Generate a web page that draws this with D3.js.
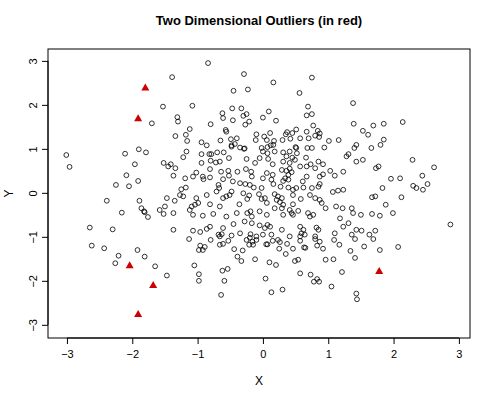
<!DOCTYPE html>
<html lang="en">
<head>
<meta charset="UTF-8">
<title>Two Dimensional Outliers</title>
<script src="https://cdn.jsdelivr.net/npm/d3@7"></script>
<style>
	*{margin:0;box-sizing:border-box;}
	body{background:#fff;}
	text{font-family:"Liberation Sans",Arial,sans-serif;fill:#000;}
	.axis line,.axis path{stroke:#000;}
</style>
</head>
<body>
<svg id="svg" width="500" height="399"></svg>
<script>
// ordinary points as [x, y]
var points = [
	[-1.53,1.96],[-1.70,1.58],[-1.90,0.99],
	[-0.84,2.95],[-1.39,2.63],[-0.29,2.70],[-0.45,2.32],[-0.23,2.35],[-1.08,1.98],[-0.47,1.92],[-0.33,1.92],[-1.31,1.72],[-1.30,1.62],[-0.62,1.81],[-0.61,1.70],[-0.46,1.65],[-0.30,1.75],[-0.25,1.79],[-0.21,1.62],[-0.27,1.55],[-0.80,1.56],[-1.12,1.45],[-0.57,1.43],[-0.56,1.39],[0.00,1.71],[-1.34,1.29],[-1.18,1.32],[-1.16,1.18],[-0.94,1.15],[-0.86,1.08],[-0.65,1.19],[-0.49,1.22],[-0.40,1.24],[-0.48,1.08],[-0.43,1.11],[-0.29,1.00],[-0.28,1.01],[-0.10,1.33],[-0.11,1.20],[0.02,1.28],[-0.02,1.02],
	[0.75,2.62],[0.16,2.51],[0.56,2.27],[1.38,2.04],[0.69,1.96],[0.09,1.85],[0.20,1.64],[0.67,1.76],[0.75,1.79],[1.39,1.57],[1.53,1.41],[0.77,1.53],[0.11,1.36],[0.06,1.20],[0.35,1.33],[0.37,1.38],[0.45,1.36],[0.51,1.44],[0.67,1.39],[0.84,1.41],[0.87,1.35],[0.80,1.30],[0.86,1.27],[0.57,1.24],[0.70,1.24],[0.30,1.20],[0.42,1.23],[0.17,1.18],[0.16,1.09],[0.12,1.08],[0.07,1.04],[1.01,1.18],[1.16,1.20],[0.50,1.04],[0.51,1.02],[0.68,1.02],[0.75,1.02],[0.94,1.03],[1.43,1.09],[1.40,1.02],
	[2.14,1.61],[1.85,1.57],[1.69,1.53],[1.61,1.32],[1.85,1.21],[1.80,1.09],[1.66,1.02],
	[-3.01,0.86],[-2.96,0.59],[-2.11,0.89],[-1.79,0.92],[-1.96,0.65],[-1.52,0.68],[-2.09,0.40],[-1.91,0.27],[-2.25,0.18],[-2.05,0.15],[-2.39,-0.18],[-1.89,-0.18],[-1.86,-0.35],[-1.82,-0.42],[-1.81,-0.44],[-1.76,-0.55],[-1.58,-0.39],[-1.52,-0.48],[-1.50,-0.31],[-2.16,-0.45],[-2.65,-0.79],[-2.30,-0.83],
	[-1.17,0.94],[-1.22,0.81],[-0.94,0.88],[-0.82,0.88],[-0.79,0.88],[-0.70,0.92],[-0.60,0.92],[-0.48,1.05],[-0.35,1.03],[-0.05,0.79],[-0.52,0.79],[-0.66,0.71],[-0.72,0.69],[-0.80,0.73],[-0.94,0.68],[-1.41,0.65],[-1.34,0.56],[-1.45,0.60],[-1.37,0.39],[-0.81,0.54],[-0.25,0.77],[-0.12,0.68],[-0.26,0.54],[-0.18,0.48],[-0.17,0.37],[-0.39,0.48],[-0.53,0.50],[-0.64,0.48],[-1.02,0.46],[-1.07,0.37],[-1.19,0.33],[-0.92,0.37],[-0.91,0.31],[-0.81,0.35],[-0.61,0.31],[-0.52,0.39],[-0.46,0.26],[-0.35,0.22],[-0.27,0.20],[-0.20,0.18],[-0.14,0.12],[0.00,0.33],[-0.02,0.11],[-0.68,0.18],[-0.67,0.11],[-0.71,0.03],[-1.18,0.12],[-1.25,0.08],[-1.27,-0.05],[-1.22,-0.08],[-0.86,-0.05],[-1.02,-0.12],[-0.99,-0.23],[-1.04,-0.27],[-1.09,-0.31],[-1.12,-0.39],[-0.81,-0.26],[-0.66,-0.31],[-0.61,-0.12],[-0.56,-0.08],[-0.51,-0.05],[-0.48,0.03],[-0.30,-0.01],[-0.21,-0.06],[-0.24,-0.14],[-0.36,-0.26],[-0.06,-0.03],[-0.02,-0.14],[-1.47,-0.12],[-1.35,-0.18],[-1.37,-0.46],[-1.07,-0.50],[-0.92,-0.52],[-0.76,-0.48],[-0.56,-0.54],[-0.40,-0.46],[-0.24,-0.46],[-0.19,-0.42],[-0.17,-0.54],[-0.05,-0.42],[-0.28,-0.65],[-0.45,-0.71],[-0.17,-0.69],[-0.05,-0.74],[-0.81,-0.77],[-0.86,-0.82],[-1.07,-0.86],[-0.96,-0.89],[-1.37,-0.84],[-0.61,-0.80],[-0.68,-0.95],[-0.66,-0.99],[-0.63,-0.94],[-0.48,-0.97],[-0.35,-0.92],[-0.19,-0.94],[-0.10,-0.99],[0.00,-0.95],
	[0.00,0.94],[0.07,0.90],[0.18,0.94],[0.08,0.77],[0.15,0.65],[0.31,0.92],[0.41,0.94],[0.36,0.83],[0.45,0.80],[0.52,0.90],[0.66,0.80],[0.31,0.71],[0.41,0.68],[0.49,0.75],[0.57,0.60],[0.67,0.60],[0.73,0.65],[0.80,0.56],[0.85,0.71],[0.92,0.65],[1.03,0.50],[0.92,0.42],[0.87,0.37],[1.10,0.39],[1.23,0.48],[1.28,0.83],[1.31,0.88],[1.43,0.71],[1.53,0.75],[0.29,0.52],[0.36,0.50],[0.41,0.55],[0.44,0.47],[0.39,0.41],[0.34,0.33],[0.39,0.30],[0.31,0.27],[0.06,0.45],[0.15,0.41],[0.13,0.30],[0.16,0.20],[0.27,0.14],[0.39,0.12],[0.46,0.07],[0.51,0.11],[0.61,0.26],[0.67,0.37],[0.62,0.12],[0.75,0.11],[0.85,0.14],[0.87,0.20],[1.07,0.02],[1.15,0.05],[1.23,0.07],[0.03,-0.12],[0.06,-0.23],[0.18,-0.03],[0.23,-0.08],[0.21,-0.16],[0.29,-0.12],[0.26,-0.21],[0.31,-0.27],[0.18,-0.35],[0.29,-0.35],[0.46,-0.05],[0.58,-0.14],[0.72,-0.05],[0.80,-0.12],[0.87,-0.16],[0.90,-0.23],[0.96,-0.35],[0.46,-0.26],[0.41,-0.39],[0.44,-0.46],[0.46,-0.50],[0.54,-0.41],[0.31,-0.50],[0.69,-0.46],[0.72,-0.54],[0.77,-0.50],[1.12,-0.31],[1.22,-0.35],[1.36,-0.35],[1.38,-0.46],[1.50,-0.50],[1.18,-0.58],[1.23,-0.77],[1.31,-0.69],[0.06,-0.50],[0.07,-0.73],[0.11,-0.77],[0.03,-0.80],[0.13,-0.95],[0.29,-0.84],[0.41,-0.99],[0.57,-0.77],[0.62,-0.84],[0.59,-0.92],[0.64,-0.95],[0.57,-0.99],[0.82,-0.79],[0.85,-0.84],[0.80,-0.99],[1.10,-0.92],[1.36,-0.95],[1.43,-0.84],[1.51,-0.86],
	[1.73,0.56],[1.77,0.60],[2.29,0.75],[2.62,0.58],[1.96,0.32],[2.10,0.33],[2.44,0.39],[2.52,0.20],[2.30,0.16],[2.35,0.11],[2.45,0.07],[1.83,0.11],[1.67,-0.10],[1.72,-0.08],[2.12,-0.10],[1.88,-0.27],[1.99,-0.46],[1.67,-0.48],[1.79,-0.52],[2.87,-0.72],[1.72,-0.86],[1.63,-0.95],[1.69,-1.05],
	[-2.62,-1.20],[-2.43,-1.26],[-2.21,-1.43],[-2.26,-1.60],[-1.92,-1.30],[-1.81,-1.45],[-1.65,-1.67],
	[-1.13,-1.05],[-0.80,-1.07],[-0.53,-1.09],[-0.66,-1.18],[-0.61,-1.16],[-0.96,-1.20],[-0.89,-1.23],[-0.98,-1.30],[-0.92,-1.30],[-0.44,-1.28],[-0.31,-1.31],[-0.39,-1.45],[-0.33,-1.55],[-0.25,-1.07],[-0.20,-1.02],[-0.16,-1.11],[-0.10,-1.07],[-0.21,-1.18],[-0.15,-1.18],[-0.12,-1.51],[-1.05,-1.65],[-1.47,-1.88],[-0.98,-1.85],[-0.98,-2.00],[-0.62,-1.77],[-0.54,-1.73],[-0.59,-2.00],[-0.64,-2.32],[0.04,-1.95],
	[0.07,-1.17],[0.05,-1.17],[0.15,-1.09],[0.23,-1.07],[0.26,-1.12],[0.57,-1.09],[0.37,-1.16],[0.25,-1.27],[0.46,-1.27],[0.35,-1.39],[0.63,-1.24],[0.65,-1.25],[0.80,-1.05],[0.87,-1.11],[0.83,-1.20],[0.92,-1.27],[1.09,-1.07],[1.17,-1.18],[1.41,-1.05],[1.34,-1.32],[1.41,-1.48],[1.55,-1.22],[0.10,-1.58],[0.20,-1.64],[0.49,-1.55],[0.54,-1.52],[0.96,-1.52],[1.08,-1.51],[1.21,-1.80],[0.57,-1.83],[0.73,-1.86],[0.78,-2.02],[0.83,-1.96],[0.86,-2.02],[1.05,-2.13],[0.13,-2.26],[0.30,-2.20],[1.43,-2.29],[1.44,-2.42],
	[1.79,-1.30],[2.07,-1.23]
];
// the red ones
var outlierX = [-1.80, -1.91, -2.04, -1.68, -1.91, 1.78];
var outlierY = [2.38, 1.68, -1.66, -2.11, -2.77, -1.79];

var xTicks = [-3, -2, -1, 0, 1, 2, 3];
var yTicks = [-3, -2, -1, 0, 1, 2, 3];

var svg = d3.select("#svg"),
	box = {left: 48, top: 49, right: 470, bottom: 338};

var x = d3.scaleLinear().domain([-3.29, 3.17]).range([box.left, box.right]);
var y = d3.scaleLinear().domain([-3.30, 3.27]).range([box.bottom, box.top]);

// title
svg.append("text")
	.attr("x", (box.left + box.right) / 2)
	.attr("y", 25)
	.attr("text-anchor", "middle")
	.style("font-weight", "bold")
	.style("font-size", "13px")
	.text("Two Dimensional Outliers (in red)");

// x axis
var gx = svg.append("g").attr("class", "axis")
	.attr("transform", "translate(0," + box.bottom + ")")
	.call(d3.axisBottom(x).tickValues(xTicks).tickSize(6).tickPadding(6).tickFormat(d3.format("d")));
gx.select(".domain").attr("d", "M" + x(xTicks[0]) + ",0H" + x(xTicks[xTicks.length - 1]));
gx.selectAll("text").style("font-size", "11px").attr("font-family", null);

// y axis, labels turned like in R
var gy = svg.append("g").attr("class", "axis")
	.attr("transform", "translate(" + box.left + ",0)")
	.call(d3.axisLeft(y).tickValues(yTicks).tickSize(6).tickFormat(d3.format("d")));
gy.select(".domain").attr("d", "M0," + y(yTicks[0]) + "V" + y(yTicks[yTicks.length - 1]));
gy.selectAll(".tick text")
	.attr("x", 0).attr("y", -11).attr("dy", null)
	.attr("text-anchor", "middle")
	.attr("transform", "rotate(-90)")
	.style("font-size", "11px");

// frame
svg.append("rect")
	.attr("x", box.left).attr("y", box.top)
	.attr("width", box.right - box.left).attr("height", box.bottom - box.top)
	.attr("fill", "none").attr("stroke", "#000");

// axis titles
svg.append("text")
	.attr("x", (box.left + box.right) / 2).attr("y", 385)
	.attr("text-anchor", "middle").style("font-size", "12px").text("X");
svg.append("text")
	.attr("transform", "translate(13," + (box.top + box.bottom) / 2 + ") rotate(-90)")
	.attr("text-anchor", "middle").style("font-size", "12px").text("Y");

// points
svg.append("g").selectAll("circle")
	.data(points)
	.enter().append("circle")
	.attr("cx", function(d) { return x(d[0]); })
	.attr("cy", function(d) { return y(d[1]); })
	.attr("r", 2.4)
	.attr("fill", "none")
	.attr("stroke", "#000")
	.attr("stroke-width", 0.8);

svg.append("g").selectAll("path")
	.data(outlierX)
	.enter().append("path")
	.attr("d", d3.symbol().type(d3.symbolTriangle).size(28))
	.attr("transform", function(d, i) { return "translate(" + x(d) + "," + y(outlierY[i]) + ")"; })
	.attr("fill", "#cc0000");
</script>
</body>
</html>
